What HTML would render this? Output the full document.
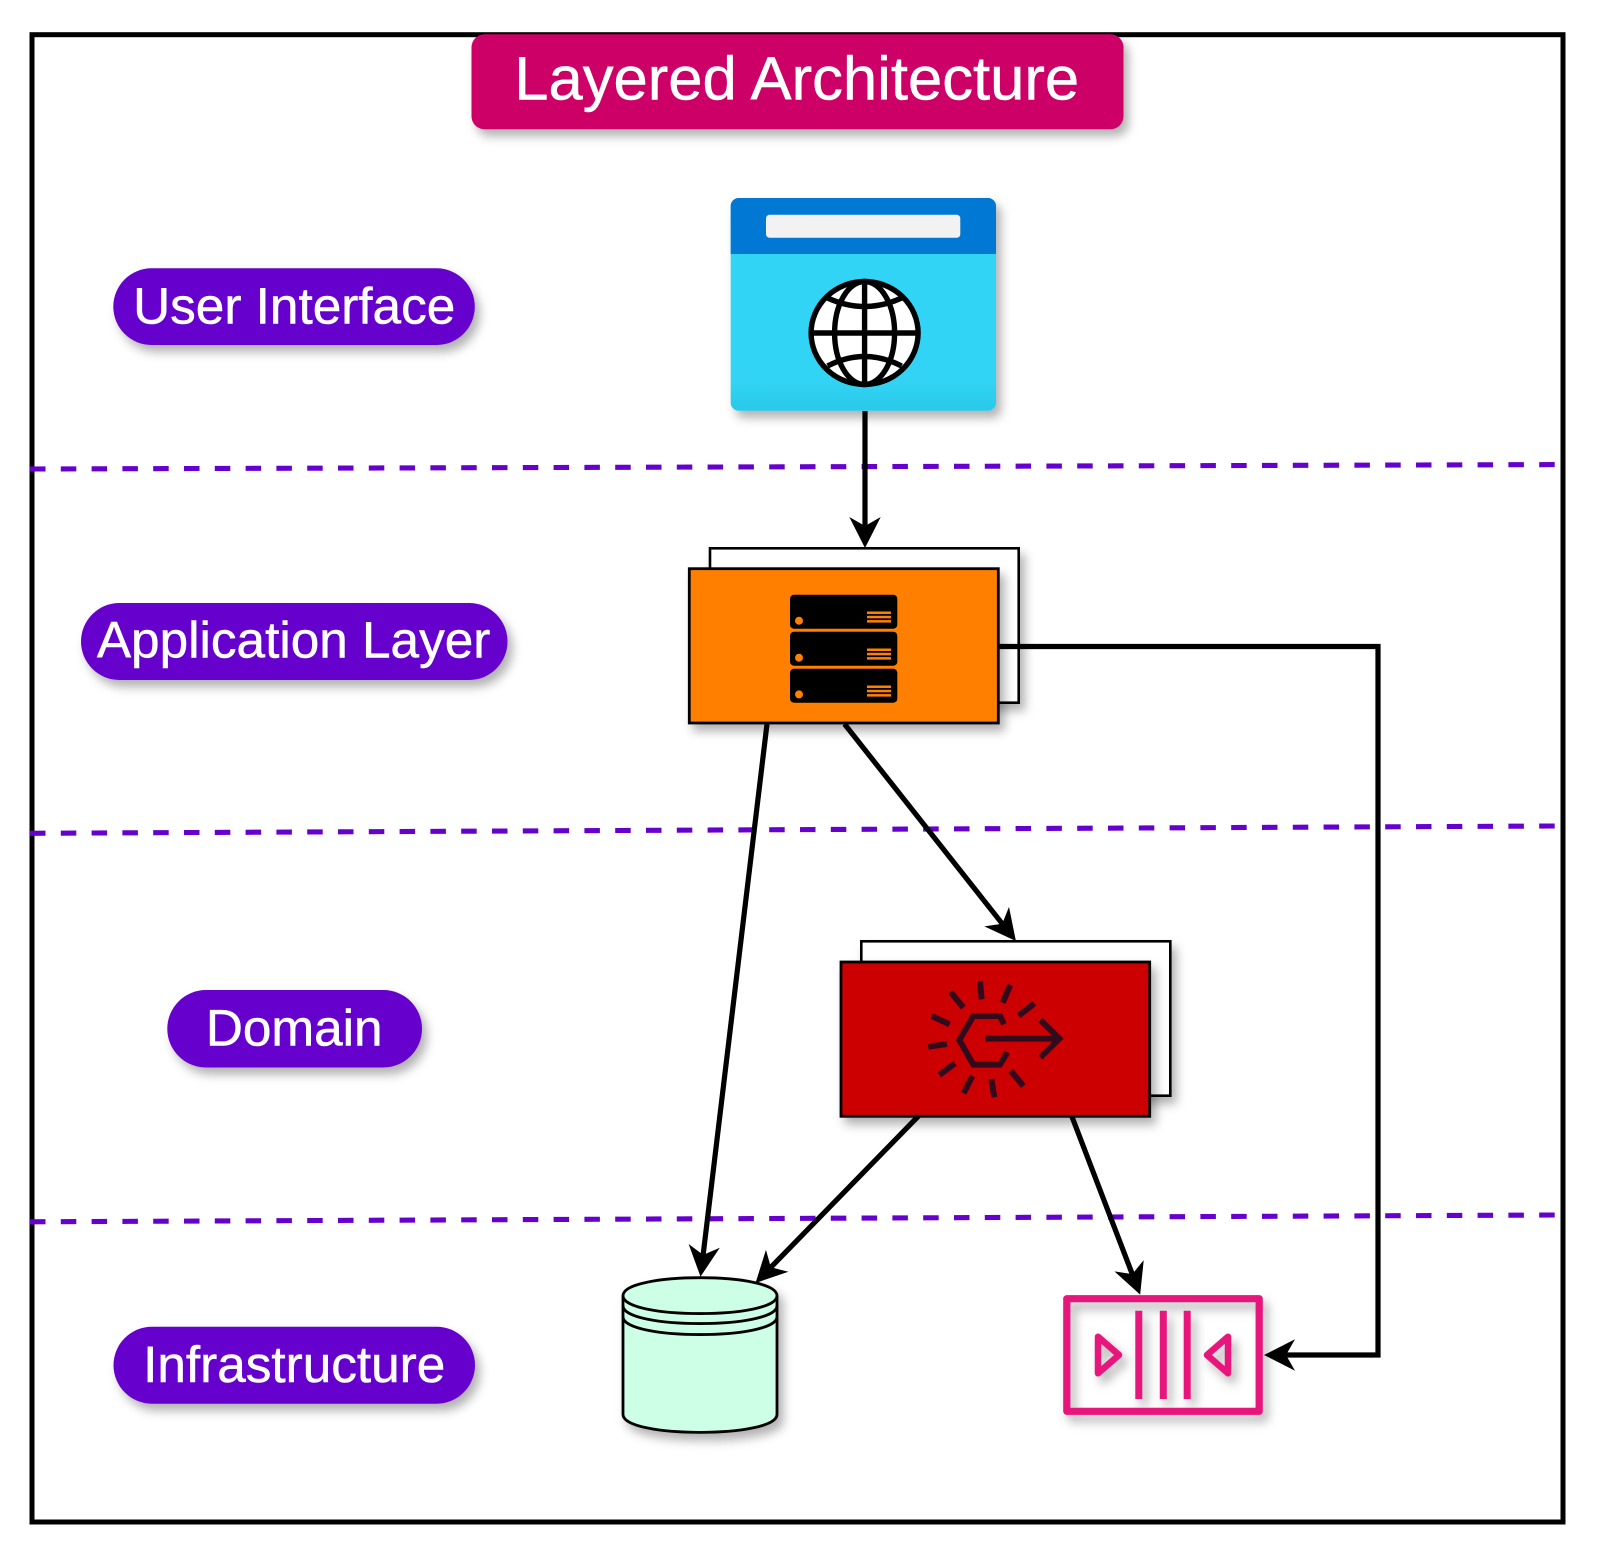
<!DOCTYPE html>
<html><head><meta charset="utf-8"><title>Layered Architecture</title>
<style>html,body{margin:0;padding:0;background:#fff}svg{display:block}
text{font-family:"Liberation Sans",sans-serif;fill:#fff;text-anchor:middle;stroke:#fff;stroke-width:.5}</style></head>
<body>
<svg width="1600" height="1552" viewBox="0 0 1600 1552" xmlns="http://www.w3.org/2000/svg">
<defs>
<filter id="s" x="-20%" y="-20%" width="150%" height="150%"><feDropShadow dx="5" dy="7" stdDeviation="5" flood-color="#000" flood-opacity=".3"/></filter>
<linearGradient id="b" x1="0" y1="0" x2="0" y2="1"><stop offset="0" stop-color="#32d4f5"/><stop offset=".85" stop-color="#32d4f5"/><stop offset="1" stop-color="#2ac9e8"/></linearGradient>
<marker id="a" markerUnits="userSpaceOnUse" markerWidth="60" markerHeight="60" refX="0" refY="0" viewBox="-30 -30 60 60" orient="auto" overflow="visible"><path d="M-11,-15.7 L20,0 L-11,15.7 L-2,0Z" fill="#000"/></marker>
</defs>
<rect width="1600" height="1552" fill="#fff"/>
<rect x="32" y="34.7" width="1531" height="1487.3" fill="none" stroke="#000" stroke-width="5"/>

<g fill="none" stroke="#6600cc" stroke-width="5.1" stroke-dasharray="15.5 15.3">
<line x1="30" y1="469" x2="1555" y2="464.6"/>
<line x1="30" y1="833.3" x2="1555" y2="826"/>
<line x1="30" y1="1221.8" x2="1555" y2="1215"/>
</g>

<g filter="url(#s)"><rect x="471.5" y="34.3" width="652" height="95" rx="13" fill="#cc0066"/></g>
<text x="796.7" y="99.3" font-size="61.6">Layered Architecture</text>

<g filter="url(#s)" fill="#6600cc">
<rect x="113.3" y="268.3" width="361.5" height="76.7" rx="38.3"/>
<rect x="81" y="603" width="426.5" height="77" rx="38.5"/>
<rect x="167.3" y="990" width="254.7" height="77.5" rx="38.7"/>
<rect x="113.5" y="1326.7" width="361.5" height="77" rx="38.5"/>
</g>
<text x="294.2" y="323.3" font-size="51.3">User Interface</text>
<text x="293.6" y="657.3" font-size="51.3">Application Layer</text>
<text x="294.2" y="1045.7" font-size="51.3">Domain</text>
<text x="294.2" y="1382" font-size="51.3">Infrastructure</text>

<!-- browser -->
<g filter="url(#s)">
<path d="M738.7,198H988a8,8 0 0 1 8,8V402.7a8,8 0 0 1 -8,8H738.7a8,8 0 0 1 -8,-8V206a8,8 0 0 1 8,-8Z" fill="url(#b)"/>
<path d="M738.7,198H988a8,8 0 0 1 8,8V254H730.7V206a8,8 0 0 1 8,-8Z" fill="#0078d4"/>
<rect x="766" y="214.8" width="194.3" height="23" rx="3.5" fill="#f2f2f2"/>
</g>
<g fill="none" stroke="#000" stroke-width="5.4" transform="translate(864.6,333)">
<ellipse rx="53.5" ry="51.5" fill="#fff"/>
<ellipse rx="30" ry="51.5"/>
<line x1="-53" y1="0" x2="53" y2="0"/>
<line x1="0" y1="-51" x2="0" y2="51"/>
<path d="M-37,-35 Q0,-18 37,-35"/>
<path d="M-37,33 Q0,14 37,33"/>
</g>

<!-- application boxes -->
<rect x="710" y="548.3" width="308.7" height="154.4" fill="#fff" stroke="#000" stroke-width="2.6" filter="url(#s)"/>
<rect x="689.3" y="568.7" width="309" height="154.3" fill="#ff8000" stroke="#000" stroke-width="2.8" filter="url(#s)"/>
<g fill="#000">
<rect x="790" y="594.7" width="107.3" height="34" rx="4"/>
<rect x="790" y="631.7" width="107.3" height="34" rx="4"/>
<rect x="790" y="668.7" width="107.3" height="34" rx="4"/>
</g>
<g fill="#ff8000">
<circle cx="799" cy="620.7" r="4"/><circle cx="799" cy="657.7" r="4"/><circle cx="799" cy="694.4" r="4"/>
<rect x="867" y="611.5" width="24" height="2.5"/><rect x="867" y="615.8" width="24" height="2.5"/><rect x="867" y="620.1" width="24" height="2.5"/>
<rect x="867" y="648.5" width="24" height="2.5"/><rect x="867" y="652.8" width="24" height="2.5"/><rect x="867" y="657.1" width="24" height="2.5"/>
<rect x="867" y="685.5" width="24" height="2.5"/><rect x="867" y="689.8" width="24" height="2.5"/><rect x="867" y="694.1" width="24" height="2.5"/>
</g>

<!-- domain boxes -->
<rect x="861.3" y="941.3" width="309" height="154.4" fill="#fff" stroke="#000" stroke-width="2.6" filter="url(#s)"/>
<rect x="841" y="962" width="308.7" height="154.3" fill="#cc0000" stroke="#000" stroke-width="2.8" filter="url(#s)"/>
<g transform="translate(820,920) scale(.33333)" fill="none" stroke="#330a1c" stroke-width="18">
<path d="M480,183L485,238M571,195L548,248M643,250L596,287M335,288L389,313M392,216L430,263M325,380L381,372M358,465L405,430M457,468L431,520M514,477L523,532M572,452L610,498"/>
<path d="M552,313L540,288H460L418,360L460,434H540L562,397"/>
<path d="M496,356H718M661,300L718,356L661,412"/>
</g>

<!-- cylinder -->
<g filter="url(#s)">
<path d="M623,1295.7C623,1271.7 777,1271.7 777,1295.7V1414.5C777,1438.3 623,1438.3 623,1414.5Z" fill="#ccffe6" stroke="#000" stroke-width="2.8"/>
</g>
<path d="M623,1295.7C623,1319.5 777,1319.5 777,1295.7M623,1305.7C623,1329.5 777,1329.5 777,1305.7M623,1316.7C623,1340.5 777,1340.5 777,1316.7" fill="none" stroke="#000" stroke-width="2.8"/>

<!-- queue icon -->
<g filter="url(#s)" fill="none" stroke="#e7157b">
<rect x="1066.8" y="1298.7" width="192.4" height="112.6" stroke-width="7.2" stroke-linejoin="round"/>
<path d="M1138.8,1310.7V1399M1163.3,1310.7V1399M1187.2,1310.7V1399" stroke-width="7"/>
<path d="M1098,1336.7V1373.3L1119,1355Z" stroke-width="6.5" stroke-linejoin="round"/>
<path d="M1228,1336.7V1373.3L1207,1355Z" stroke-width="6.5" stroke-linejoin="round"/>
</g>

<!-- connectors -->
<g fill="none" stroke="#000" stroke-width="5.2" marker-end="url(#a)">
<line x1="865" y1="411" x2="865" y2="528"/>
<line x1="767" y1="724" x2="702.9" y2="1256.8"/>
<line x1="844.5" y1="724" x2="1003.5" y2="925.3"/>
<line x1="918.5" y1="1116" x2="769.5" y2="1268.7"/>
<line x1="1071.7" y1="1116" x2="1133" y2="1276"/>
<polyline points="998.3,646.5 1378,646.5 1378,1355 1284,1355"/>
</g>
</svg>
</body></html>
